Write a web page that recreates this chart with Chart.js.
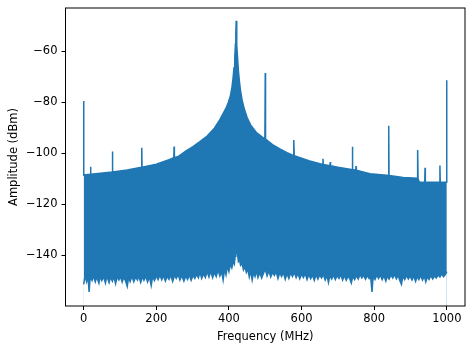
<!DOCTYPE html>
<html>
<head>
<meta charset="utf-8">
<script src="https://cdn.jsdelivr.net/npm/chart.js@4"></script>
<style>
  html, body { margin: 0; padding: 0; background: #fff; }
  #wrap { width: 474px; height: 351px; position: relative; }
</style>
</head>
<body>
<div id="wrap"><canvas id="spectrumChart"></canvas></div>
<script>
// top edge of the noise (smooth part)
const envFreq = [0, 40, 80, 120, 160, 200, 237, 260, 283, 300,
                 320, 340, 360, 375, 385, 392, 398, 404, 408, 411,
                 414, 416, 418, 419, 420, 421, 422, 424, 426, 429,
                 432, 436, 442, 450, 460, 475, 499, 520, 540, 560,
                 577, 620, 659, 700, 737, 788, 834, 880, 918, 924,
                 971, 999];
const envDbm = [-108.6, -108.0, -107.4, -106.6, -105.5, -104.3, -102.5, -101.3, -99.0, -97.5,
                -95.5, -93.3, -90.2, -86.8, -84.2, -82.3, -80.2, -77.5, -74.5, -71,
                -66.5, -62.5, -57, -53, -48, -53, -57.5, -63, -67.5, -72,
                -75.5, -79, -82.5, -86, -89, -91.8, -94.5, -96.6, -98.3, -99.8,
                -100.9, -103, -104.4, -105.5, -106.4, -108.1, -108.7, -109.5, -109.8, -111.3,
                -111.4, -111.4];

// spurs: frequency, peak level, level they stand on
const spurFreq = [0, 19, 79, 160, 249, 500, 579, 659, 679, 740, 750, 840, 920, 940, 981, 1000];
const spurTop = [-79.5, -105.3, -99.3, -97.9, -97.4, -68.5, -94.8, -102.2, -103.5, -97.5, -105.1, -89.2, -98.8, -105.7, -104.8, -71.4];
const spurBase = [-108.6, -108.3, -107.4, -105.5, -101.8, -94.5, -101.0, -104.4, -104.9, -106.4, -106.7, -108.8, -110, -111.4, -111.4, -111.4];

// ragged bottom edge of the noise
const floorFreq = [0, 4, 8, 12, 15, 18, 23, 27, 32, 36,
                   42, 46, 50, 55, 60, 64, 70, 74, 79, 83,
                   88, 92, 97, 101, 106, 110, 115, 120, 124, 128,
                   133, 138, 143, 148, 152, 157, 162, 166, 171, 176,
                   181, 186, 190, 195, 200, 205, 210, 215, 220, 225,
                   230, 235, 240, 245, 250, 255, 260, 265, 270, 276,
                   281, 286, 291, 296, 301, 306, 311, 316, 320, 325,
                   330, 335, 340, 345, 350, 355, 360, 365, 370, 375,
                   380, 384, 388, 392, 396, 400, 404, 408, 412, 415,
                   417, 419, 420, 421, 422, 424, 426, 429, 432, 436,
                   440, 444, 448, 452, 456, 460, 464, 468, 472, 476,
                   480, 485, 490, 495, 500, 505, 510, 515, 520, 525,
                   530, 535, 540, 545, 550, 555, 560, 565, 570, 575,
                   580, 585, 590, 595, 600, 605, 610, 615, 620, 625,
                   630, 635, 640, 645, 650, 655, 660, 665, 670, 674,
                   678, 683, 688, 693, 698, 703, 708, 713, 718, 723,
                   728, 733, 737, 741, 746, 751, 756, 761, 766, 771,
                   776, 781, 786, 790, 794, 797, 802, 807, 812, 817,
                   822, 827, 832, 836, 841, 846, 851, 856, 861, 866,
                   871, 875, 879, 884, 889, 894, 899, 904, 909, 914,
                   918, 923, 928, 933, 938, 942, 946, 951, 956, 961,
                   966, 971, 976, 981, 986, 991, 996, 1000];
const floorDbm = [-151.5, -148, -150.5, -148.5, -154.5, -148.5, -150, -148.2, -150.5, -148.5,
                  -151, -148.3, -150, -148.5, -151, -148.2, -150.8, -148.6, -150.2, -148.4,
                  -151.2, -148.5, -149.8, -148.3, -150.6, -148.8, -150, -152.3, -148.6, -150.4,
                  -148.2, -150.5, -148.6, -149.8, -148.2, -150.7, -148.4, -149.9, -148.3, -150.5,
                  -148.5, -152, -148.4, -150, -148.1, -149.6, -147.8, -149.7, -148, -150.2,
                  -148.3, -149.5, -147.9, -150.3, -148, -149.2, -147.6, -149.8, -148, -150.2,
                  -148.2, -149.6, -147.8, -149.9, -148, -149.2, -147.6, -148.9, -146.8, -149.2,
                  -147.3, -148.8, -146.5, -148.6, -146.3, -148.9, -146.8, -148.4, -145.8, -148.2,
                  -146.5, -149.8, -145.5, -147.8, -144.2, -146.5, -143.5, -145, -142.5, -143.5,
                  -140.5, -138, -135, -134.7, -138.5, -140, -142.5, -141.8, -144, -143.2,
                  -145.8, -144.6, -146.8, -145.5, -148.6, -146.3, -149.8, -146.8, -148.4, -146.2,
                  -148.8, -146.8, -149, -147.2, -145.5, -148.2, -146.2, -148.6, -146.8, -148,
                  -146.5, -149.2, -147, -148.4, -146.8, -149.5, -147.2, -149.2, -147, -148.4,
                  -146.8, -148.9, -147.2, -149.3, -147.4, -148.8, -147.2, -149.6, -147.6, -149.3,
                  -147.8, -149.9, -147.6, -149.4, -147.8, -149, -147.6, -149.8, -148, -150.8,
                  -148, -149.4, -147.8, -149.6, -148, -149.2, -147.6, -149.8, -148, -149.9,
                  -148.2, -149.4, -151, -148.3, -149.6, -148.1, -149.4, -147.6, -149, -147.8,
                  -149.5, -148, -149.2, -148.3, -154.5, -148.4, -149.6, -147.9, -149.2, -147.8,
                  -149.6, -148.1, -150.2, -148.2, -149.4, -147.8, -149, -147.6, -149.3, -148,
                  -150.2, -151.5, -148.3, -149.6, -148, -149.4, -148.2, -149.8, -148.3, -150.3,
                  -148.4, -149.6, -148, -149.8, -148.2, -150.5, -148.5, -149.6, -148, -149.4,
                  -148.2, -149, -147.8, -148.6, -147.4, -148.5, -147.6, -146.5];

const xTicks = [0, 200, 400, 600, 800, 1000];
const yTicks = [-60, -80, -100, -120, -140];

// top edge left to right with the spurs inserted
const upper = envFreq.map((f, i) => ({ x: f, y: envDbm[i], o: -1 }));
spurFreq.forEach((f, i) => {
    upper.push({ x: Math.max(f - 0.8, 0), y: spurBase[i], o: 0 });
    upper.push({ x: f, y: spurTop[i], o: 1 });
    upper.push({ x: Math.min(f + 0.8, 1000), y: spurBase[i], o: 2 });
});
upper.sort((a, b) => a.x - b.x || a.o - b.o);
const topEdge = upper.map(p => ({ x: p.x, y: p.y }));
const bottomEdge = floorFreq.map((f, i) => ({ x: f, y: floorDbm[i] }));

const minus = v => (v < 0 ? '\u2212' + Math.abs(v) : String(v));

const frame = {
    id: 'frame',
    afterDatasetsDraw(chart) {
        const { ctx, chartArea: a } = chart;
        ctx.save();
        ctx.strokeStyle = '#000';
        ctx.lineWidth = 1;
        ctx.strokeRect(a.left, a.top, a.right - a.left, a.bottom - a.top);
        ctx.restore();
    }
};

Chart.defaults.font.family = 'DejaVu Sans';
Chart.defaults.font.size = 11.5;
Chart.defaults.color = '#000';

const ctx = document.getElementById('spectrumChart').getContext('2d');
const chart = new Chart(ctx, {
    type: 'line',
    data: {
        datasets: [
            {
                // blue from the top edge down
                data: topEdge,
                borderColor: '#1f77b4',
                backgroundColor: '#1f77b4',
                borderWidth: 1.5,
                fill: 'start',
                pointRadius: 0,
                tension: 0,
                order: 2
            },
            {
                // clear below the ragged bottom edge
                data: bottomEdge,
                borderColor: '#1f77b4',
                backgroundColor: '#ffffff',
                borderWidth: 1.5,
                fill: 'start',
                pointRadius: 0,
                tension: 0,
                order: 1
            }
        ]
    },
    options: {
        responsive: true,
        maintainAspectRatio: false,
        animation: false,
        layout: { padding: { left: 0, right: 9, top: 8, bottom: 0 } },
        plugins: { legend: { display: false }, tooltip: { enabled: false } },
        scales: {
            x: {
                type: 'linear',
                min: -50,
                max: 1050,
                afterBuildTicks: s => { s.ticks = xTicks.map(v => ({ value: v })); },
                afterFit: s => { s.height = 45; s.paddingLeft = 0; s.paddingRight = 0; },
                ticks: { padding: 2, maxRotation: 0, callback: v => minus(v) },
                grid: { drawOnChartArea: false, drawTicks: true, tickLength: 4, color: '#000' },
                border: { display: false },
                title: { display: true, text: 'Frequency (MHz)', padding: { top: 0, bottom: 7 } }
            },
            y: {
                type: 'linear',
                min: -160,
                max: -43,
                afterBuildTicks: s => { s.ticks = yTicks.map(v => ({ value: v })); },
                afterFit: s => { s.width = 65.5; s.paddingTop = 0; s.paddingBottom = 0; },
                ticks: { padding: 4, callback: v => minus(v) },
                grid: { drawOnChartArea: false, drawTicks: true, tickLength: 4, color: '#000' },
                border: { display: false },
                title: { display: true, text: 'Amplitude (dBm)', padding: { top: 7, bottom: 0 } }
            }
        }
    },
    plugins: [frame]
});
</script>
</body>
</html>
